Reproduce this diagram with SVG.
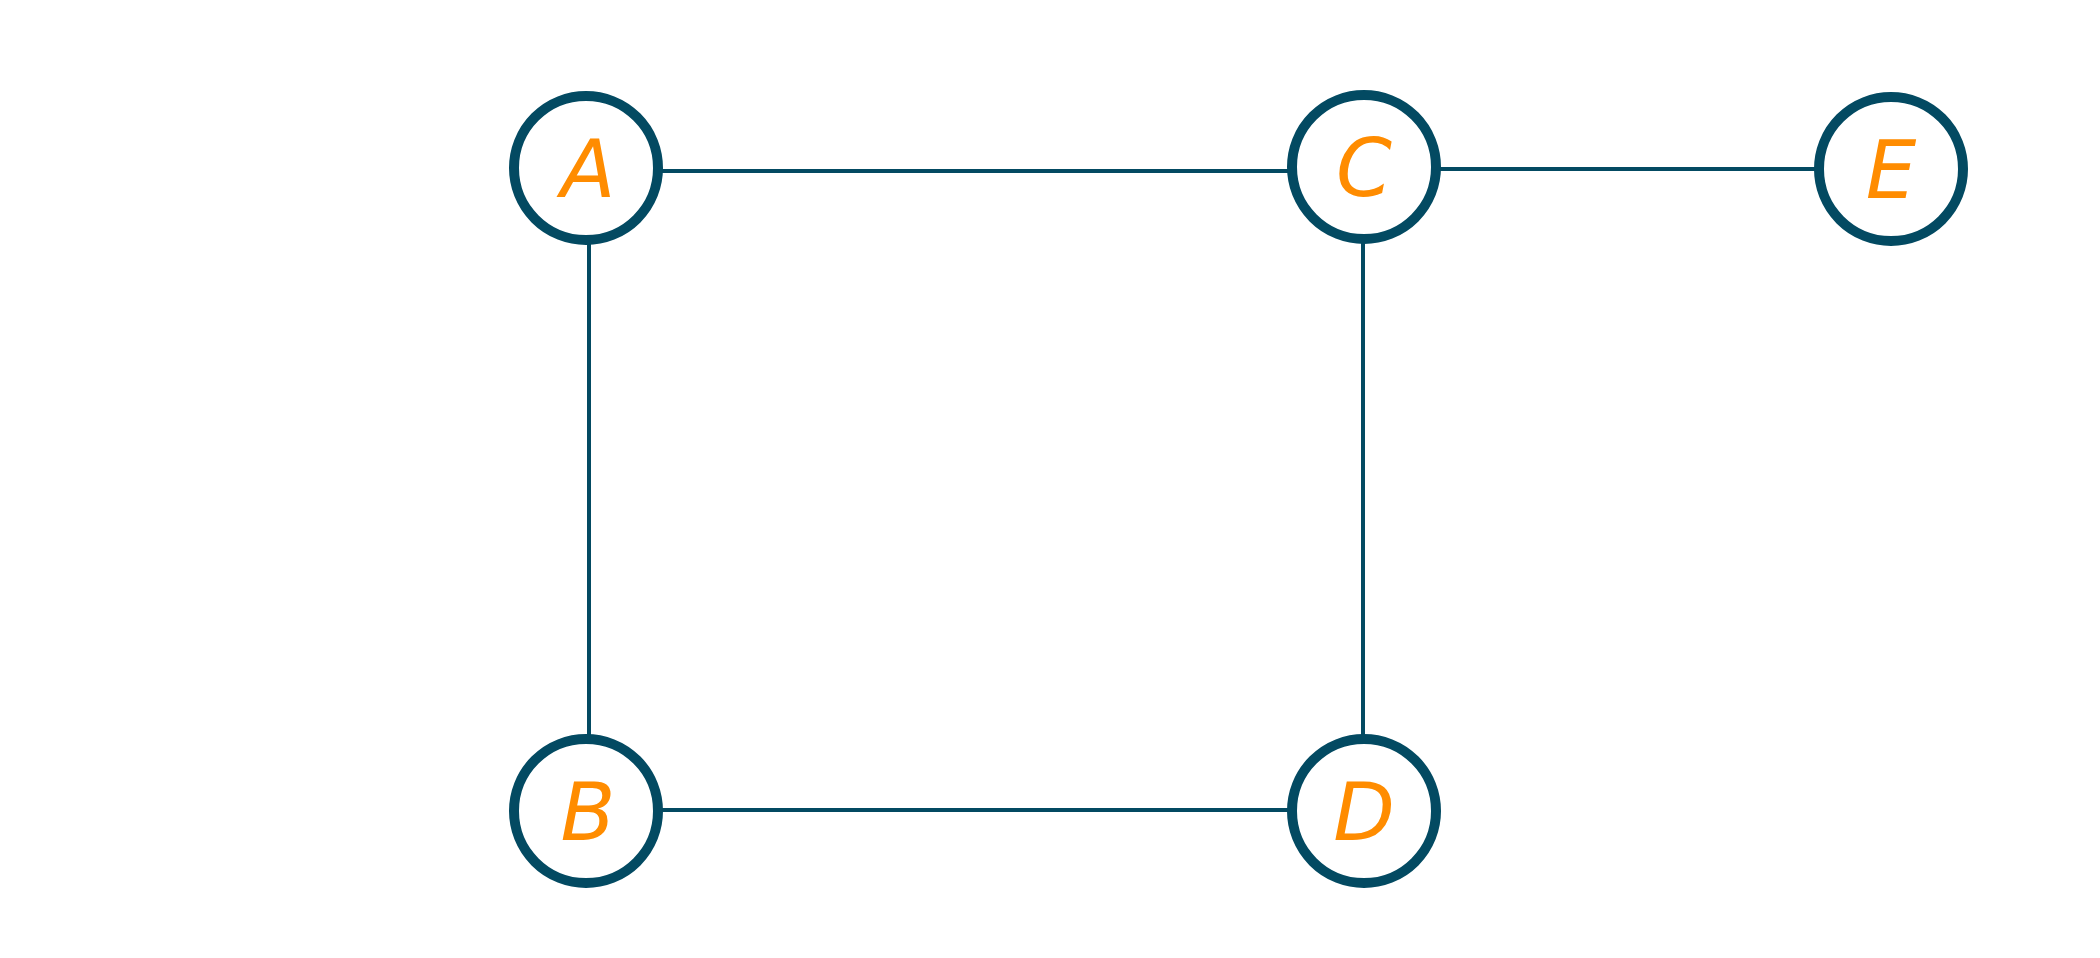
<svg xmlns="http://www.w3.org/2000/svg" width="2100" height="958" viewBox="0 0 2100 958">
<style>
.n{fill:#fff;stroke:#034a62;stroke-width:10}
.e{stroke:#034a62;stroke-width:4;fill:none}
.t{fill:#ff8c00;font-family:"DejaVu Sans",sans-serif;font-style:italic;font-size:80px;text-anchor:middle}
</style>
<rect width="2100" height="958" fill="#fff"/>
<g id="edges">
<line class="e" x1="660" y1="171" x2="1290" y2="171"/>
<line class="e" x1="1438" y1="169" x2="1817" y2="169"/>
<line class="e" x1="589" y1="242" x2="589" y2="737"/>
<line class="e" x1="1363" y1="241" x2="1363" y2="737"/>
<line class="e" x1="660" y1="810" x2="1290" y2="810"/>
</g>
<g id="A"><circle class="n" cx="586" cy="168" r="72"/><text class="t" x="588" y="197">A</text></g>
<g id="C"><circle class="n" cx="1364" cy="167" r="72"/><text class="t" x="1364" y="196">C</text></g>
<g id="E"><circle class="n" cx="1891" cy="169" r="72"/><text class="t" x="1891" y="198">E</text></g>
<g id="B"><circle class="n" cx="586" cy="811" r="72"/><text class="t" x="588" y="840">B</text></g>
<g id="D"><circle class="n" cx="1364" cy="811" r="72"/><text class="t" x="1364" y="840">D</text></g>
</svg>
